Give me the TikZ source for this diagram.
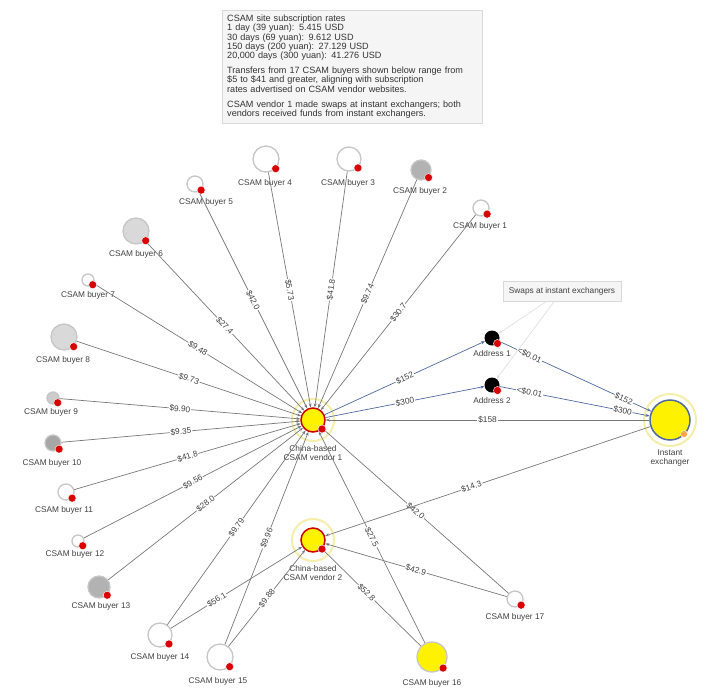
\documentclass[tikz,border=0pt]{standalone}
\usepackage{fontspec}
\setmainfont{Liberation Sans}
\usetikzlibrary{arrows.meta}
\definecolor{halo}{RGB}{245,238,170}
\definecolor{edge}{RGB}{120,120,120}
\definecolor{blueedge}{RGB}{80,105,160}
\tikzstyle{wallet} = [circle, draw=gray!45, line width=1.3pt, fill=white, inner sep=0pt]
\tikzstyle{badge} = [circle, fill=red!85!black, draw=white, line width=0.4pt, minimum size=8pt, inner sep=0pt]
\tikzstyle{caption} = [font=\fontsize{8.3}{9.3}\selectfont, text=black!75, align=center]
\tikzstyle{amount} = [font=\fontsize{8.3}{9.3}\selectfont, text=black!75, fill=white, inner sep=0.8pt, sloped]
\tikzstyle{flow} = [draw=edge, line width=0.7pt, -{Stealth[length=4pt]}]
\begin{document}
\begin{tikzpicture}[x=1pt, y=-1pt]
   \useasboundingbox (0,0) rectangle (728,697);
   % info box
   \node[draw=gray!30, fill=gray!8, anchor=north west, minimum width=260pt, minimum height=112pt, inner sep=5pt, text width=250pt, align=left, font=\fontsize{9.1}{9.2}\selectfont, text=black!80] (info) at (222,10)
      {CSAM site subscription rates\\1 day (39 yuan): 5.415 USD\\30 days (69 yuan): 9.612 USD\\150 days (200 yuan): 27.129 USD\\20,000 days (300 yuan): 41.276 USD\\[6pt]
       Transfers from 17 CSAM buyers shown below range from\\\$5 to \$41 and greater, aligning with subscription\\rates advertised on CSAM vendor websites.\\[6pt]
       CSAM vendor 1 made swaps at instant exchangers; both\\vendors received funds from instant exchangers.};
   % nodes
   \draw[halo, line width=2pt] (313,420) circle (21) (313,540) circle (21) (670,420) circle (26);
   \node[circle, draw=red!80!black, line width=1.5pt, fill=yellow, minimum size=24pt, inner sep=0pt] (v1) at (313,420) {};
   \node[circle, draw=red!80!black, line width=1.5pt, fill=yellow, minimum size=24pt, inner sep=0pt] (v2) at (313,540) {};
   \node[circle, draw=blueedge, line width=1.5pt, fill=yellow, minimum size=40pt, inner sep=0pt] (ex) at (670,420) {};
   \node[circle, fill=orange!70, draw=white, minimum size=7pt, inner sep=0pt] at (684,434) {};
   \node[circle, fill=black, minimum size=15pt, inner sep=0pt] (a1) at (492,338) {};
   \node[circle, fill=black, minimum size=15pt, inner sep=0pt] (a2) at (492,385) {};
   \node[caption, below=9pt] at (v1.south) {China-based\\CSAM vendor 1};
   \node[caption, below=9pt] at (v2.south) {China-based\\CSAM vendor 2};
   \node[caption, below=5pt] at (ex.south) {Instant\\exchanger};
   \node[caption, below=1pt] at (a1.south) {Address 1};
   \node[caption, below=1pt] at (a2.south) {Address 2};
   \foreach \i/\x/\y/\r/\c/\lx/\ly/\amt in {
      1/481/208/8/white/480/226/30.7, 2/421/170/10/gray!60/420/191/9.74,
      3/349/159/12/white/348/183/41.8, 4/266/159/13/white/265/183/5.73,
      5/195/184/8/white/206/202/42.0, 6/136/231/13/gray!30/136/254/27.4,
      7/88/280/6/white/88/295/9.48, 8/64/337/13/gray!30/63/360/9.73,
      9/53/398/6/gray!40/51/412/9.90, 10/53/443/8/gray!70/52/463/9.35,
      11/66/492/8/white/64/510/41.8, 12/78/541/6/white/75/554/9.56,
      13/99/587/11/gray!60/101/606/28.0, 14/160/635/12/white/160/657/9.79,
      15/220/657/13/white/218/681/9.96, 16/432/657/15/yellow/432/683/27.5,
      17/515/599/8/white/515/617/42.0} {
      \node[wallet, fill=\c, minimum size=2*\r pt] (b\i) at (\x,\y) {};
      \node[caption] at (\lx,\ly) {CSAM buyer \i};
      \draw[flow] (b\i) -- node[amount] {\$\amt} (v1);
   }
   \foreach \i/\amt/\p in {14/56.1/.35, 15/9.88/.5, 16/52.8/.55, 17/42.9/.5}
      \draw[flow] (b\i) -- node[amount, pos=\p] {\$\amt} (v2);
   \draw[flow] (ex) -- node[amount, pos=.55] {\$14.3} (v2);
   \draw[flow] (ex) -- node[amount] {\$158} (v1);
   \draw[flow, draw=blueedge] (v1) -- node[amount] {\$152} (a1);
   \draw[flow, draw=blueedge] (v1) -- node[amount] {\$300} (a2);
   \draw[flow, draw=blueedge] (a1) -- node[amount, pos=.2] {<\$0.01} node[amount, pos=.82] {\$152} (ex);
   \draw[flow, draw=blueedge] (a2) -- node[amount, pos=.2] {<\$0.01} node[amount, pos=.82] {\$300} (ex);
   % badges
   \foreach \n in {v1,v2,a1,a2,b1,b2,b3,b4,b5,b6,b7,b8,b9,b10,b11,b12,b13,b14,b15,b16,b17}
      \node[badge] at (\n.-45) {};
   % callout
   \node[draw=gray!30, fill=gray!8, font=\fontsize{8.3}{9.3}\selectfont, text=black!75, inner sep=6pt] (swap) at (562,291) {Swaps at instant exchangers};
   \draw[gray!25, line width=0.7pt, -{Stealth[length=4pt]}] (swap) -- (a1);
   \draw[gray!25, line width=0.7pt, -{Stealth[length=4pt]}] (swap) -- (a2);
\end{tikzpicture}
\end{document}
